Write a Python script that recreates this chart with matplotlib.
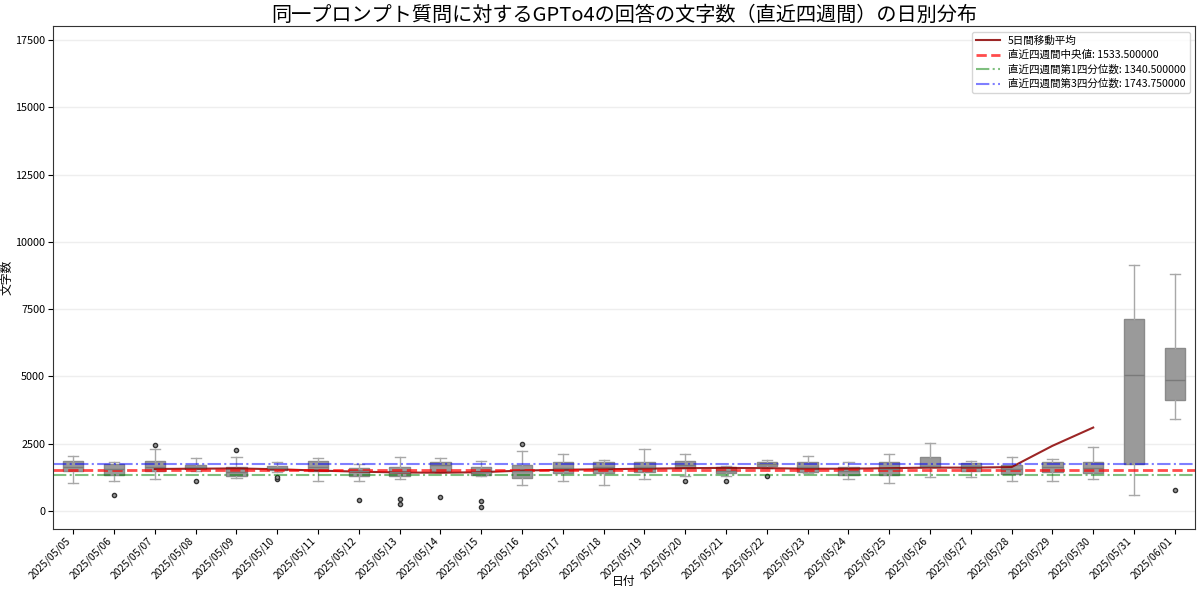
import numpy as np
import matplotlib.pyplot as plt

plt.rcParams['font.family'] = ['Noto Sans CJK JP', 'DejaVu Sans']

dates = ['2025/05/05', '2025/05/06', '2025/05/07', '2025/05/08', '2025/05/09', '2025/05/10',
         '2025/05/11', '2025/05/12', '2025/05/13', '2025/05/14', '2025/05/15', '2025/05/16',
         '2025/05/17', '2025/05/18', '2025/05/19', '2025/05/20', '2025/05/21', '2025/05/22',
         '2025/05/23', '2025/05/24', '2025/05/25', '2025/05/26', '2025/05/27', '2025/05/28',
         '2025/05/29', '2025/05/30', '2025/05/31', '2025/06/01']

# 日別の箱ひげ統計
whisker_low = [1050, 1130, 1170, 1480, 1210, 1450, 1130, 1110, 1180, 1450, 1280, 950, 1110, 950,
               1170, 1300, 1300, 1580, 1400, 1170, 1020, 1260, 1260, 1130, 1130, 1180, 610, 3430]
q1 = [1470, 1350, 1470, 1550, 1310, 1530, 1470, 1290, 1280, 1470, 1320, 1210, 1410, 1410,
      1450, 1580, 1410, 1670, 1450, 1350, 1350, 1630, 1500, 1380, 1450, 1410, 1750, 4120]
median = [1620, 1550, 1650, 1630, 1450, 1600, 1650, 1470, 1450, 1700, 1450, 1500, 1600, 1650,
          1630, 1700, 1500, 1730, 1630, 1500, 1550, 1670, 1670, 1550, 1630, 1610, 5050, 4860]
q3 = [1840, 1730, 1840, 1720, 1630, 1670, 1840, 1580, 1650, 1820, 1630, 1690, 1820, 1820,
      1820, 1840, 1630, 1820, 1820, 1630, 1820, 2000, 1790, 1690, 1820, 1820, 7130, 6070]
whisker_high = [2050, 1810, 2290, 1960, 1990, 1810, 1950, 1730, 2000, 1950, 1850, 2230, 2100, 1880,
                2290, 2100, 1670, 1880, 2040, 1820, 2130, 2540, 1850, 2000, 1940, 2380, 9150, 8820]
fliers = [[], [580], [2450], [1130], [2250], [1200, 1250], [], [400], [430, 240], [530], [380, 140], [2470],
          [], [], [], [1130], [1130], [1280], [], [], [], [], [], [], [], [], [], [780]]

# 5日間移動平均（中心化、画像から読み取り）
ma_dates = dates[2:26]
ma_values = [1560, 1570, 1580, 1550, 1500, 1460, 1430, 1420, 1440, 1500, 1530, 1550,
             1570, 1590, 1600, 1590, 1570, 1570, 1590, 1610, 1610, 1630, 2420, 3100]

median_4w = 1533.5
q1_4w = 1340.5
q3_4w = 1743.75

stats = []
for i in range(len(dates)):
    stats.append({'whislo': whisker_low[i], 'q1': q1[i], 'med': median[i], 'q3': q3[i],
                  'whishi': whisker_high[i], 'fliers': fliers[i]})

fig = plt.figure(figsize=(12, 5.97), dpi=100)
ax = fig.add_axes([0.044, 0.114, 0.952, 0.842])

positions = np.arange(1, len(dates) + 1)
ax.bxp(stats, positions=positions, widths=0.5, patch_artist=True,
       boxprops=dict(facecolor='#9a9a9a', edgecolor='#8a8a8a', linewidth=1),
       whiskerprops=dict(color='#a8a8a8', linewidth=1),
       capprops=dict(color='#a8a8a8', linewidth=1),
       medianprops=dict(color='#7a7a7a', linewidth=1),
       flierprops=dict(marker='o', markersize=3, markerfacecolor='#999999',
                       markeredgecolor='#333333', markeredgewidth=1))

ma_pos = [dates.index(d) + 1 for d in ma_dates]
ax.plot(ma_pos, ma_values, color='darkred', linewidth=1.5, alpha=0.85, label='5日間移動平均')
ax.axhline(median_4w, color='red', linestyle='--', linewidth=2, alpha=0.7,
           label=f'直近四週間中央値: {median_4w:f}')
ax.axhline(q1_4w, color='green', linestyle='-.', linewidth=1.5, alpha=0.5,
           label=f'直近四週間第1四分位数: {q1_4w:f}')
ax.axhline(q3_4w, color='blue', linestyle='-.', linewidth=1.5, alpha=0.5,
           label=f'直近四週間第3四分位数: {q3_4w:f}')

ax.set_xticks(positions)
ax.set_xticklabels(dates, rotation=45, ha='right', fontsize=7.4)
ax.set_xlim(0.5, len(dates) + 0.5)
ax.set_ylim(-670, 18020)
ax.set_yticks(np.arange(0, 17501, 2500))
ax.tick_params(axis='y', labelsize=7.8, pad=2)
ax.tick_params(axis='x', pad=1)
ax.grid(axis='y', color='#eeeeee', linewidth=1)
ax.set_axisbelow(True)
for s in ax.spines.values():
    s.set_color('#333333')

ax.set_title('同一プロンプト質問に対するGPTo4の回答の文字数（直近四週間）の日別分布', fontsize=14.5, pad=3)
ax.set_xlabel('日付', fontsize=8.5, labelpad=-4)
ax.set_ylabel('文字数', fontsize=8.5, labelpad=1)
ax.legend(loc='upper right', fontsize=7.6, labelspacing=0.4, handlelength=2.2)

fig.savefig('out.png', dpi=100)
